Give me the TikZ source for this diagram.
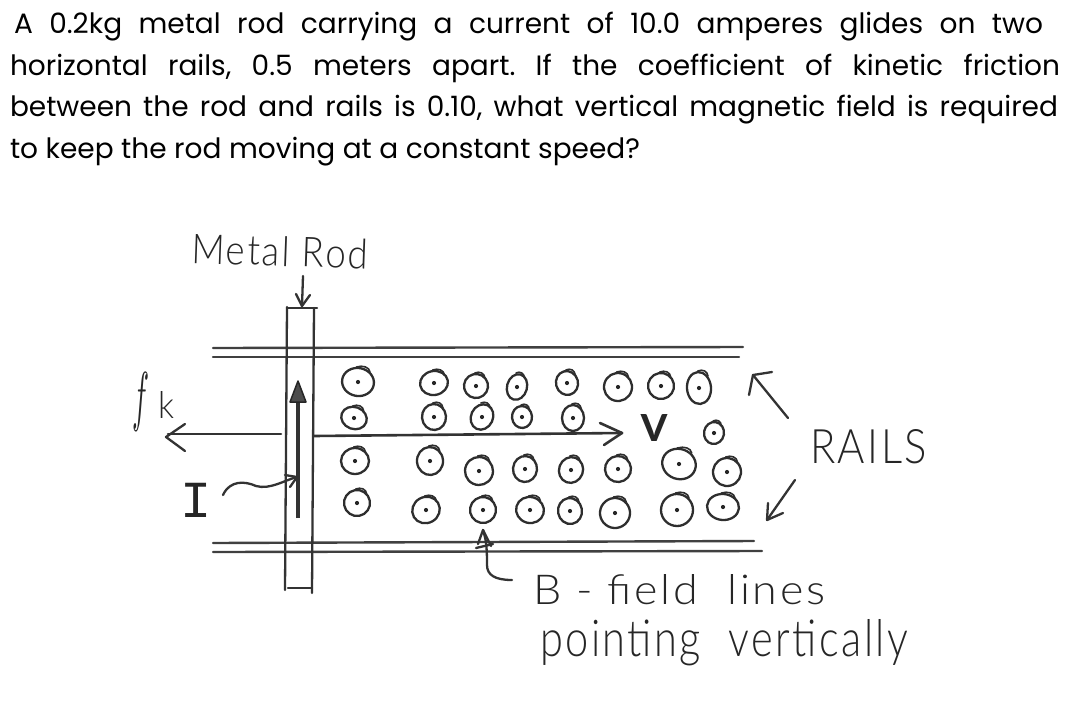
\documentclass[tikz,border=0pt]{standalone}
\usepackage{fontspec}
\usepackage{graphicx}
\setmainfont{Poppins}
\newfontfamily\hand[LetterSpace=6]{Lato Light}
\newfontfamily\handmono{Liberation Mono}
\frenchspacing
\newcommand{\fitline}[2]{\hbox to #1{\spaceskip=.25em plus 1fil minus .15em #2}}
\tikzset{
  prose/.style={anchor=base west,inner sep=0pt,outer sep=0pt,font=\fontsize{28}{30}\selectfont,text=black},
  handtext/.style={inner sep=0pt,outer sep=0pt,text=black!85,font=\hand},
  pen/.style={line width=2.3pt,draw=black!80,line cap=round,line join=round},
  rail/.style={line width=2.4pt,draw=black!75,line cap=round},
  bubble/.style={line width=2.3pt,draw=black!82,line cap=round}
}
\begin{document}
\begin{tikzpicture}[x=1pt,y=-1pt]
\useasboundingbox (0,0) rectangle (1082,710);
\fill[white] (0,0) rectangle (1082,710);
% problem statement
\node[prose] (l1) at (14,33) {\fitline{1029pt}{A 0.2kg metal rod carrying a current of 10.0 amperes glides on two}};
\node[prose] (l2) at (10,75) {\fitline{1050pt}{horizontal rails, 0.5 meters apart. If the coefficient of kinetic friction}};
\node[prose] (l3) at (10,116) {\fitline{1048pt}{between the rod and rails is 0.10, what vertical magnetic field is required}};
\node[prose] (l4) at (10,158) {\fitline{630pt}{to keep the rod moving at a constant speed?}};
% rails
\draw[rail] (213,348) -- (743,347);
\draw[rail] (213,357) -- (739,357);
\draw[rail] (213,543) -- (754,541);
\draw[rail] (213,552) -- (762,551);
% rod
\draw[pen] (287,307) -- (285,590);
\draw[pen] (314,308) -- (312,593);
\draw[pen] (287,308) -- (317,308);
\draw[pen] (288,588) -- (312,588);
% metal rod pointer
\draw[pen] (303,276) -- (302,306);
\draw[pen] (296,294) -- (302,306) -- (310,295);
% current arrow
\draw[line width=4.5pt,draw=black!80] (298,518) -- (298,398);
\draw[line width=1.5pt,draw=black!85,fill=black!70,line join=round] (290,402) -- (306,402) -- (298,381) -- cycle;
% friction arrow
\draw[pen,line width=2.6pt] (281,434) -- (168,434);
\draw[pen] (185,424) -- (166,437) -- (185,451);
% velocity arrow
\draw[pen,line width=2.6pt] (314,436) -- (622,433);
\draw[pen,line width=2.6pt] (600,423) -- (622,433) -- (604,445);
% I pointer
\draw[pen] (223,495) .. controls (230,480) and (245,481) .. (256,486) .. controls (270,490) and (285,480) .. (297,477);
\draw[pen] (285,475) -- (297,477) -- (290,487);
% rails pointers
\draw[pen] (788,418) -- (753,375);
\draw[pen] (772,372) -- (753,375) -- (749,395);
\draw[pen] (795,480) -- (767,520);
\draw[pen] (768,503) -- (767,520) -- (783,513);
% B field pointer
\draw[pen] (483,530) .. controls (486,540) and (487,545) .. (487,565) .. controls (487,575) and (495,580) .. (512,580);
\draw[pen] (476,548) -- (493,544);
\draw[pen] (478,544) -- (483,530) -- (491,546);
% field lines
\foreach \x/\y/\rx/\ry/\t in {
 358/382/16/14/-10, 354/418/13/11/-20, 355/461/14/13/0, 357/503/13/13/10,
 434/383/14/12/10, 476/386/12/12/-30, 517/387/10/13/-15, 567/383/11/12/15, 618/387/14/14/-15, 661/386/13/13/10, 699/388/12/16/5,
 434/417/12/13/5, 482/417/11/13/-25, 522/417/10/11/5, 573/418/11/13/0, 714/433/10/11/-10,
 430/461/13/14/5, 479/471/14/14/-25, 525/469/12/13/-5, 571/470/12/13/-20, 618/469/13/13/5, 679/464/17/15/-20, 727/472/14/14/15,
 426/510/14/13/30, 483/510/13/13/-10, 530/510/14/13/-15, 570/511/12/13/10, 615/513/15/15/-5, 677/510/16/16/-10, 723/507/16/13/-5}{
  \draw[bubble,rotate around={\t:(\x,\y)}] (\x,\y) ellipse [x radius=\rx, y radius=\ry];
  \draw[bubble,line width=1.6pt] (\x-0.1*\rx,\y-\ry-1) .. controls (\x+.3*\rx,\y-\ry-3) and (\x+.7*\rx,\y-\ry-1) .. (\x+.75*\rx,\y-\ry+4);
  \fill[black!85] (\x,\y) circle [radius=2.1];
}
% labels
\node[handtext,anchor=base west,rotate=-2] (rodlabel) at (191,263) {\resizebox{177pt}{30pt}{Metal Rod}};
\node[handtext,anchor=base west] (fklabel) at (132,418) {\makebox[26pt][l]{\resizebox{17pt}{46pt}{$f$}}\resizebox{16pt}{27pt}{k}};
\node[handtext,anchor=center] (ilabel) at (196,500) {\fontsize{52}{52}\handmono I};
\node[handtext,anchor=base west] (vlabel) at (640,441) {\resizebox{28pt}{27pt}{\bfseries v}};
\node[handtext,anchor=base west] (railslabel) at (810,463) {\resizebox{117pt}{34pt}{RAILS}};
\node[handtext,anchor=base west] (blabel) at (533,604) {\resizebox{292pt}{30pt}{B - field\ \ lines}};
\node[handtext,anchor=base west] (plabel) at (540,656) {\resizebox{368pt}{37pt}{pointing\ \ vertically}};
\end{tikzpicture}
\end{document}
